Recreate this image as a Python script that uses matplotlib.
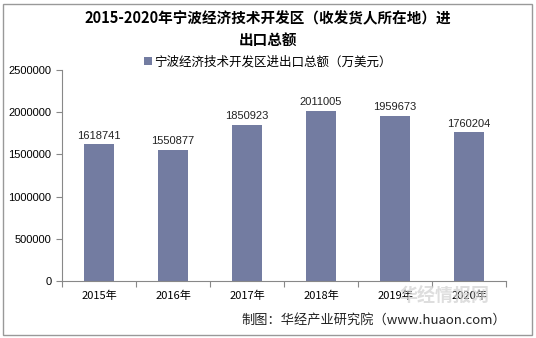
import numpy as np
import matplotlib.pyplot as plt
from matplotlib.patches import Rectangle

plt.rcParams['font.family'] = ['Noto Sans CJK SC', 'DejaVu Sans']

years = ['2015年', '2016年', '2017年', '2018年', '2019年', '2020年']
values = [1618741, 1550877, 1850923, 2011005, 1959673, 1760204]
series_name = '宁波经济技术开发区进出口总额（万美元）'
title = '2015-2020年宁波经济技术开发区（收发货人所在地）进\n出口总额'

fig = plt.figure(figsize=(5.36, 3.38), dpi=100)
ax = fig.add_axes([62 / 536, 1 - 281 / 338, 444 / 536, 211 / 338])

x = np.arange(len(years))
bars = ax.bar(x, values, width=0.4, color='#737CA1', label=series_name)
for xi, v in zip(x, values):
    ax.text(xi, v + 45000, str(v), ha='center', va='bottom', fontsize=8,
            family=['Liberation Sans', 'DejaVu Sans'], color='#222222')

ax.set_xlim(-0.5, len(years) - 0.5)
ax.set_ylim(0, 2500000)
ax.set_yticks(np.arange(0, 2500001, 500000))
ax.set_yticklabels([str(int(t)) for t in np.arange(0, 2500001, 500000)],
                   fontsize=8, family=['Liberation Sans', 'DejaVu Sans'])
ax.set_xticks(np.arange(-0.5, len(years), 1), minor=False)
ax.set_xticklabels([])
ax.set_xticks(x, minor=True)
ax.set_xticklabels(years, minor=True, fontsize=8)
ax.tick_params(axis='x', which='minor', length=0, pad=7)
ax.tick_params(axis='x', which='major', length=4, color='#888888', direction='out')
ax.tick_params(axis='y', length=4, color='#888888', direction='out')

for s in ['top', 'right']:
    ax.spines[s].set_visible(False)
ax.spines['left'].set_color('#888888')
ax.spines['bottom'].set_color('#888888')

fig.text(0.5, 1 - 29 / 338, title, ha='center', va='center', fontsize=10.5,
         fontweight='bold', linespacing=1.4)
fig.legend(handles=[bars], labels=[series_name], loc='center',
           bbox_to_anchor=(0.5, 1 - 62 / 338), frameon=False, fontsize=9,
           handlelength=0.6, handleheight=0.6, handletextpad=0.2)

# watermark
fig.text(0.83, 1 - 296 / 338, '华经情报网', ha='center', va='center', fontsize=13,
         color='#d0d0d0', fontweight='bold', alpha=0.7)

fig.text(0.945, 1 - 320 / 338, '制图：华经产业研究院（www.huaon.com）', ha='right',
         va='center', fontsize=9.5, color='#222222')

fig.patches.append(Rectangle((3 / 536, 3 / 338), 529 / 536, 331 / 338,
                             transform=fig.transFigure, fill=False,
                             edgecolor='#999999', linewidth=1))

fig.savefig('out.png', dpi=100)
